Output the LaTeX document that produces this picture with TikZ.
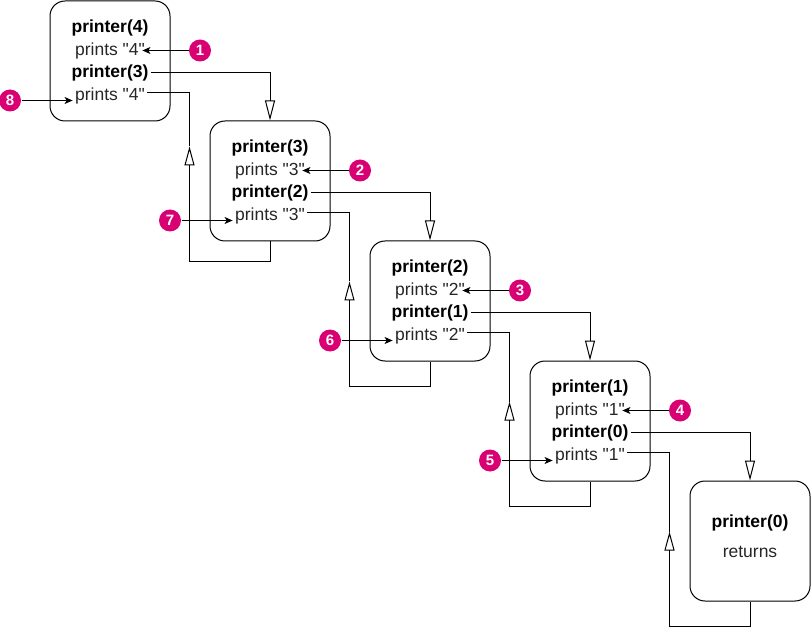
\documentclass[tikz,border=0pt]{standalone}
\usepackage{fontspec}
\setmainfont{Liberation Sans}
\usetikzlibrary{arrows.meta,positioning}
\definecolor{badge}{HTML}{D80073}
\newcommand\qt{\textquotedbl}
\begin{document}
\begin{tikzpicture}[x=1pt,y=-1pt,line width=1pt,
	frame/.style={draw,rounded corners=15pt,minimum width=120pt,minimum height=120pt},
	fn/.style={font=\bfseries,inner sep=2pt},
	msg/.style={text=black!85,inner sep=2pt},
	badgenode/.style={circle,fill=badge,text=white,font=\bfseries\fontsize{15}{15}\selectfont,inner sep=0pt,minimum size=22pt},
	call/.style={-{Triangle[open,length=20pt,width=10pt]}},
	back/.style={-{Triangle[open,length=19pt,width=10pt]}},
	poke/.style={-{Stealth[length=8pt,width=7pt,inset=2pt]}}]
	\fontsize{17.5}{21}\selectfont
	\useasboundingbox (0,0) rectangle (811,628);
	% frames
	\node[frame] (b4) at (110,61) {};
	\node[frame] (b3) at ([xshift=160pt,yshift=-120pt]b4.center) {};
	\node[frame] (b2) at ([xshift=160pt,yshift=-120pt]b3.center) {};
	\node[frame] (b1) at ([xshift=160pt,yshift=-120pt]b2.center) {};
	\node[frame] (b0) at ([xshift=160pt,yshift=-120pt]b1.center) {};
	% texts
	\node[fn]  at ([yshift=-27pt]b4.north) (f4) {printer(4)};
	\node[msg] at ([yshift=-50pt]b4.north) (p4) {prints \qt4\qt};
	\node[fn]  at ([yshift=-72pt]b4.north) (c4) {printer(3)};
	\node[msg] at ([yshift=-95pt]b4.north) (q4) {prints \qt4\qt};
	\node[fn]  at ([yshift=-27pt]b3.north) (f3) {printer(3)};
	\node[msg] at ([yshift=-50pt]b3.north) (p3) {prints \qt3\qt};
	\node[fn]  at ([yshift=-72pt]b3.north) (c3) {printer(2)};
	\node[msg] at ([yshift=-95pt]b3.north) (q3) {prints \qt3\qt};
	\node[fn]  at ([yshift=-27pt]b2.north) (f2) {printer(2)};
	\node[msg] at ([yshift=-50pt]b2.north) (p2) {prints \qt2\qt};
	\node[fn]  at ([yshift=-72pt]b2.north) (c2) {printer(1)};
	\node[msg] at ([yshift=-95pt]b2.north) (q2) {prints \qt2\qt};
	\node[fn]  at ([yshift=-27pt]b1.north) (f1) {printer(1)};
	\node[msg] at ([yshift=-50pt]b1.north) (p1) {prints \qt1\qt};
	\node[fn]  at ([yshift=-72pt]b1.north) (c1) {printer(0)};
	\node[msg] at ([yshift=-95pt]b1.north) (q1) {prints \qt1\qt};
	\node[fn]  at ([yshift=-42pt]b0.north) (f0) {printer(0)};
	\node[msg] at ([yshift=-71pt]b0.north) (p0) {returns};
	% calls
	\draw[call] (c4.east) -| (b3.north);
	\draw[call] (c3.east) -| (b2.north);
	\draw[call] (c2.east) -| (b1.north);
	\draw[call] (c1.east) -| (b0.north);
	% returns
	\coordinate (r3) at ([xshift=-20pt,yshift=-26pt]b3.north west);
	\coordinate (r2) at ([xshift=-20pt,yshift=-41pt]b2.north west);
	\coordinate (r1) at ([xshift=-20pt,yshift=-41pt]b1.north west);
	\coordinate (r0) at ([xshift=-20pt,yshift=-51pt]b0.north west);
	\draw[back] (b3.south) -- ++(0,20) -| (r3);
	\draw (r3) |- ([yshift=3pt]q4.east);
	\draw[back] (b2.south) -- ++(0,25) -| (r2);
	\draw (r2) |- ([yshift=3pt]q3.east);
	\draw[back] (b1.south) -- ++(0,25) -| (r1);
	\draw (r1) |- ([yshift=3pt]q2.east);
	\draw[back] (b0.south) -- ++(0,25) -| (r0);
	\draw (r0) |- ([yshift=3pt]q1.east);
	% badges
	\node[badgenode] at ([xshift=90pt]p4.center) (n1) {1};
	\node[badgenode] at ([xshift=90pt]p3.center) (n2) {2};
	\node[badgenode] at ([xshift=90pt]p2.center) (n3) {3};
	\node[badgenode] at ([xshift=90pt]p1.center) (n4) {4};
	\node[badgenode] at ([xshift=-100pt,yshift=-5pt]q1.center) (n5) {5};
	\node[badgenode] at ([xshift=-100pt,yshift=-5pt]q2.center) (n6) {6};
	\node[badgenode] at ([xshift=-100pt,yshift=-5pt]q3.center) (n7) {7};
	\node[badgenode] at ([xshift=-100pt,yshift=-5pt]q4.center) (n8) {8};
	\draw[poke] (n1) -- ([xshift=-5pt]p4.east);
	\draw[poke] (n2) -- ([xshift=-5pt]p3.east);
	\draw[poke] (n3) -- ([xshift=-5pt]p2.east);
	\draw[poke] (n4) -- ([xshift=-5pt]p1.east);
	\draw[poke] (n5) -- (n5 -| q1.west);
	\draw[poke] (n6) -- (n6 -| q2.west);
	\draw[poke] (n7) -- (n7 -| q3.west);
	\draw[poke] (n8) -- (n8 -| q4.west);
\end{tikzpicture}
\end{document}
